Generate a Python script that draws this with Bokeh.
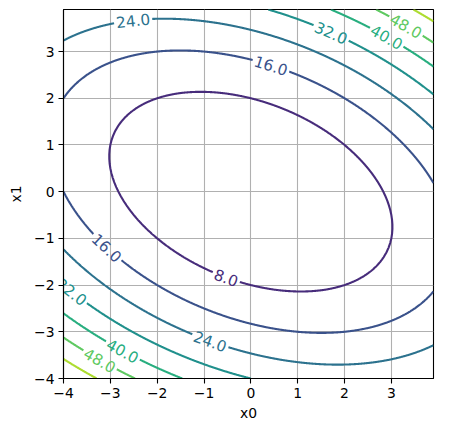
import numpy as np
import contourpy
from bokeh.plotting import figure
from bokeh.models import Range1d, FixedTicker, ColumnDataSource
from bokeh.palettes import Viridis256
from bokeh.core.properties import value
from bokeh.embed import file_html
from bokeh.resources import INLINE

# Surface: z = a*x0^2 + b*x0*x1 + c*x1^2 sampled on a regular grid
coef_x0x0 = 1.0
coef_x0x1 = 1.0
coef_x1x1 = 2.0
grid_start = -4.0
grid_stop = 4.0
grid_step = 0.1

# contour levels and colour-norm limits
levels = [8, 16, 24, 32, 40, 48, 56]
norm_min, norm_max = 0, 64

# inline contour labels: level and approximate position
label_levels = [24, 32, 40, 48, 16, 16, 8, 24, 32, 40, 48]
label_x0 = [-2.51, 1.74, 2.91, 3.32, 0.43, -3.04, -0.52, -0.86, -3.78, -2.71, -3.20]
label_x1 = [3.63, 3.45, 3.32, 3.56, 2.69, -1.17, -1.82, -3.17, -2.08, -3.36, -3.56]

x_ticks = [-4, -3, -2, -1, 0, 1, 2, 3]
x_tick_labels = ["\u22124", "\u22123", "\u22122", "\u22121", "0", "1", "2", "3"]
y_ticks = [-4, -3, -2, -1, 0, 1, 2, 3]
y_tick_labels = ["\u22124", "\u22123", "\u22122", "\u22121", "0", "1", "2", "3"]

x_label = "x0"
y_label = "x1"

# ---------------------------------------------------------------
FRAME_W, FRAME_H = 370, 369
FONT = "DejaVu Sans"
FS = 13.9        # tick / axis label size
FS_LAB = 15.3    # contour label size

g = np.arange(grid_start, grid_stop, grid_step)
X0, X1 = np.meshgrid(g, g)
Z = coef_x0x0 * X0**2 + coef_x0x1 * X0 * X1 + coef_x1x1 * X1**2
gen = contourpy.contour_generator(X0, X1, Z, line_type="Separate")

xmin, xmax = g[0], g[-1]
ymin, ymax = g[0], g[-1]
sx = FRAME_W / (xmax - xmin)
sy = FRAME_H / (ymax - ymin)


def color_for(level):
    t = (level - norm_min) / (norm_max - norm_min)
    return Viridis256[min(255, int(t * 256))]


def text_width(s):
    w = 0.0
    for ch in s:
        w += 0.318 if ch == "." else 0.636
    return w * FS_LAB


def densify(pts, step_px=0.4):
    d = np.hypot(np.diff(pts[:, 0]) * sx, np.diff(pts[:, 1]) * sy)
    s = np.concatenate([[0], np.cumsum(d)])
    n = max(2, int(s[-1] / step_px) + 1)
    t = np.linspace(0, s[-1], n)
    return np.column_stack([np.interp(t, s, pts[:, 0]), np.interp(t, s, pts[:, 1])])


p = figure(
    frame_width=FRAME_W, frame_height=FRAME_H,
    x_range=Range1d(xmin, xmax), y_range=Range1d(ymin, ymax),
    output_backend="svg", toolbar_location=None,
    min_border_left=63, min_border_right=11, min_border_top=9, min_border_bottom=38,
    background_fill_color="white", border_fill_color="white",
)

lab_x, lab_y, lab_t, lab_a, lab_c = [], [], [], [], []

for lev in levels:
    lines = [densify(np.asarray(l)) for l in gen.lines(lev) if len(l) > 1]
    if not lines:
        continue
    col = color_for(lev)
    centers = []
    for lv, ax, ay in zip(label_levels, label_x0, label_x1):
        if lv != lev:
            continue
        best = None
        for li, L in enumerate(lines):
            dd = np.hypot((L[:, 0] - ax) * sx, (L[:, 1] - ay) * sy)
            i = int(np.argmin(dd))
            if best is None or dd[i] < best[0]:
                best = (dd[i], li, i)
        _, li, i = best
        L = lines[li]
        i0, i1 = max(0, i - 8), min(len(L) - 1, i + 8)
        ang = np.arctan2((L[i1, 1] - L[i0, 1]) * sy, (L[i1, 0] - L[i0, 0]) * sx)
        if ang > np.pi / 2:
            ang -= np.pi
        if ang < -np.pi / 2:
            ang += np.pi
        txt = "%1.1f" % lev
        cx, cy = L[i, 0], L[i, 1]
        centers.append((cx, cy, text_width(txt) / 2 + 2))
        lab_x.append(cx); lab_y.append(cy); lab_t.append(txt)
        lab_a.append(float(ang)); lab_c.append(col)
    xs, ys = [], []
    for L in lines:
        keep = np.ones(len(L), dtype=bool)
        for cx, cy, r in centers:
            keep &= np.hypot((L[:, 0] - cx) * sx, (L[:, 1] - cy) * sy) > r
        idx = np.flatnonzero(keep)
        if len(idx) == 0:
            continue
        splits = np.split(idx, np.flatnonzero(np.diff(idx) > 1) + 1)
        for sidx in splits:
            if len(sidx) > 1:
                xs.append(L[sidx, 0].tolist()); ys.append(L[sidx, 1].tolist())
    p.multi_line(xs=xs, ys=ys, line_color=col, line_width=2.1)

src = ColumnDataSource(dict(x=lab_x, y=lab_y, text=lab_t, angle=lab_a, color=lab_c))
p.text(x="x", y="y", text="text", angle="angle", text_color="color", source=src,
       text_font=value(FONT), text_font_size=value("%.1fpx" % FS_LAB),
       text_align="center", text_baseline="middle")

# axes styling
p.xaxis.ticker = FixedTicker(ticks=x_ticks)
p.yaxis.ticker = FixedTicker(ticks=y_ticks)
p.xaxis.major_label_overrides = dict(zip(x_ticks, x_tick_labels))
p.yaxis.major_label_overrides = dict(zip(y_ticks, y_tick_labels))
p.xaxis.axis_label = x_label
p.yaxis.axis_label = y_label
for ax in (p.xaxis, p.yaxis):
    ax.major_label_text_font = FONT
    ax.major_label_text_font_size = "%.1fpx" % FS
    ax.major_label_text_color = "black"
    ax.axis_label_text_font = FONT
    ax.axis_label_text_font_size = "%.1fpx" % FS
    ax.axis_label_text_font_style = "normal"
    ax.axis_label_text_color = "black"
    ax.major_tick_out = 5
    ax.major_tick_in = 0
    ax.major_tick_line_color = "black"
    ax.major_tick_line_width = 1.1
    ax.minor_tick_line_color = None
    ax.axis_line_color = "black"
    ax.axis_line_width = 1.1
    ax.major_label_standoff = 4
p.xaxis.axis_label_standoff = 4
p.yaxis.axis_label_standoff = 7

p.grid.grid_line_color = "#b0b0b0"
p.grid.grid_line_width = 1.1
p.outline_line_color = "black"
p.outline_line_width = 1.1

open("out.html", "w").write(file_html(p, INLINE))
